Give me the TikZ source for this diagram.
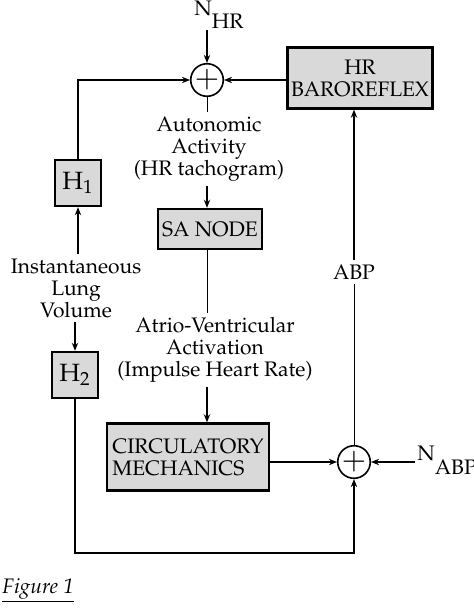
\documentclass[tikz,border=0pt]{standalone}
\usepackage[T1]{fontenc}
\usepackage{mathpazo}
\usetikzlibrary{arrows.meta, positioning}

\begin{document}
\begin{tikzpicture}[
    x=0.5pt, y=-0.5pt,
    >={Stealth[length=4pt, width=3.2pt]},
    font=\fontsize{10.5}{11}\selectfont,
    % Node styles
    block/.style={rectangle, draw=black, line width=1.2pt, fill=black!15,
                  inner sep=1pt, align=center},
    hbox/.style={block, minimum width=23pt, minimum height=23pt,
                 font=\fontsize{12.5}{13}\selectfont},
    sumjunc/.style={circle, draw=black, line width=0.8pt, fill=white,
                    minimum size=13.5pt, inner sep=0pt, font=\fontsize{15}{15}\selectfont},
    signal/.style={align=center, inner sep=2pt},
    arrow/.style={line width=0.6pt, ->},
    wire/.style={line width=0.5pt}
]
\useasboundingbox (0,0) rectangle (474,611);

% Summing junctions
\node (sumhr) [sumjunc] at (207,80) {$+$};
\node (sumabp) [sumjunc] at (354,462) {$+$};

% Noise inputs
\node (nhr) [anchor=base west, inner sep=1pt] at (192,15) {N\raisebox{-6.5pt}{HR}};
\node (nabp) [anchor=base west, inner sep=1pt] at (415,460) {N\raisebox{-7pt}{ABP}};

% Blocks
\node (baro) [block, minimum width=72.5pt, minimum height=30.5pt] at (360,78) {HR\\BAROREFLEX};
\node (h1) [hbox] at (78,183) {H$_1$};
\node (sanode) [block, minimum width=52pt, minimum height=20pt] at (210,229) {SA NODE};
\node (h2) [hbox] at (75,375) {H$_2$};
\node (circ) [block, minimum width=81pt, minimum height=33.5pt, align=left] at (188,457) {CIRCULATORY\\MECHANICS};

% Signal labels
\node (autolbl) [signal] at (209,149) {Autonomic\\Activity\\(HR tachogram)};
\node (avlbl) [signal] at (215,350) {Atrio-Ventricular\\Activation\\(Impulse Heart Rate)};
\node (lunglbl) [signal] at (76,288) {Instantaneous\\Lung\\Volume};
\node (abplbl) [signal] at (354,272) {ABP};

% Caption
\node (figlbl) [anchor=base west, inner sep=0pt] at (2,593) {\underline{\textit{Figure 1}}};

\coordinate (loopbot) at (0,553);

% Arrows
\draw [arrow] (nhr.south -| sumhr) -- (sumhr);
\draw [arrow] (baro.west |- sumhr) -- (sumhr);
\draw [arrow] (h1) |- (sumhr);
\draw [wire] (sumhr) -- (autolbl.north -| sumhr);
\draw [arrow] (autolbl.south -| sumhr) -- (sanode.north -| sumhr);
\draw [wire] (sanode.south -| sumhr) -- (avlbl.north -| sumhr);
\draw [arrow] (avlbl.south -| sumhr) -- (circ.north -| sumhr);
\draw [arrow] (lunglbl.north -| h1) -- (h1);
\draw [arrow] (lunglbl.south -| h2) -- (h2);
\draw [arrow] (h2) |- (loopbot -| sumabp) -- (sumabp);
\draw [arrow] (circ.east |- sumabp) -- (sumabp);
\draw [arrow] (nabp.west |- sumabp) -- (sumabp);
\draw [wire] (sumabp) -- (abplbl);
\draw [arrow] (abplbl) -- (baro.south -| sumabp);

\end{tikzpicture}
\end{document}
